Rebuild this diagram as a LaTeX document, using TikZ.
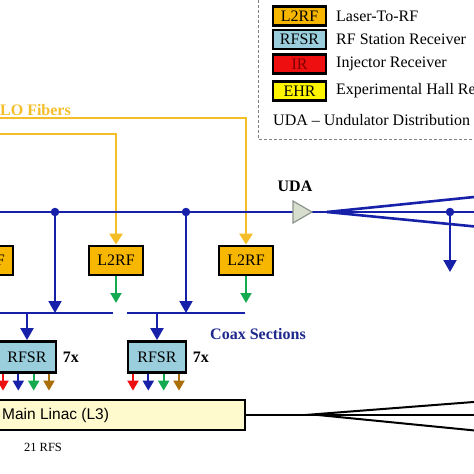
\documentclass[tikz,border=0pt]{standalone}
\usepackage{fontspec}
\setmainfont{Liberation Serif}
\newfontfamily\linacfont{Liberation Sans}
\usetikzlibrary{arrows.meta}
\definecolor{cableblue}{RGB}{22,32,168}
\definecolor{coaxtext}{RGB}{30,40,140}
\definecolor{fiberor}{RGB}{245,190,40}
\definecolor{l2rfor}{RGB}{247,183,0}
\definecolor{rfsrbl}{RGB}{155,206,220}
\definecolor{irred}{RGB}{238,16,16}
\definecolor{ehryel}{RGB}{255,245,0}
\definecolor{tapgrn}{RGB}{20,170,80}
\definecolor{tapbrn}{RGB}{170,110,10}
\definecolor{linacyel}{RGB}{255,250,205}
\definecolor{udagrey}{RGB}{215,222,205}
\definecolor{udaline}{RGB}{140,150,140}
\tikzset{
  unit/.style={draw=black,line width=2.8pt,minimum width=54pt,minimum height=29pt,inner sep=0pt},
  l2rf/.style={unit,fill=l2rfor},
  rfsr/.style={unit,fill=rfsrbl,minimum width=58pt,minimum height=31pt},
  key/.style={draw=black,line width=2.6pt,minimum width=53pt,minimum height=19pt,inner sep=0pt},
  keytext/.style={anchor=west,inner sep=0pt},
  cable/.style={draw=cableblue,line width=2.6pt},
  drop/.style={draw=cableblue,line width=2pt,-{Triangle[length=12pt,width=13pt]}},
  fiber/.style={draw=fiberor,line width=2.8pt,-{Triangle[length=11pt,width=13pt]}},
  tap/.style={draw=#1,line width=2pt,shorten >=8pt,-{Triangle[length=10pt,width=11pt]}},
  dot/.style={circle,fill=cableblue,inner sep=0pt,minimum size=8.5pt},
  beam/.style={draw=black,line width=2pt},
}
\begin{document}
\begin{tikzpicture}[x=1pt,y=-1pt,font=\fontsize{16}{19}\selectfont]
  \useasboundingbox (0,0) rectangle (474,474);
  \clip (0,0) rectangle (474,474);
  \draw[gray,line width=0.9pt,dash pattern=on 3pt off 2pt] (258,-10) rectangle (490,139);
  \foreach \y/\name/\fcol/\tcol/\txt in {16/L2RF/l2rfor/black/Laser-To-RF,
      39.5/RFSR/rfsrbl/black/RF Station Receiver,
      64/IR/irred/red!50!black/Injector Receiver,
      91/EHR/ehryel/black/Experimental Hall Receiver}{
    \node[key,fill=\fcol,text=\tcol] (key\name) at (299.5,\y) {\name};
    \node[keytext] (keytxt\name) at (336,\y) {\txt};
  }
  \node[keytext] (keyuda) at (273,122) {UDA -- Undulator Distribution Amplifier};

  \node[l2rf] (l2rfA) at (-14,260.5) {L2RF};
  \node[l2rf] (l2rfB) at (116,260.5) {L2RF};
  \node[l2rf] (l2rfC) at (246,260.5) {L2RF};
  \node[rfsr] (rfsrA) at (27,357) {RFSR};
  \node[rfsr] (rfsrB) at (157,357) {RFSR};
  \node[anchor=west,font=\fontsize{16}{19}\selectfont\bfseries] (sevenA) at ([xshift=2pt]rfsrA.east) {7x};
  \node[anchor=west,font=\fontsize{16}{19}\selectfont\bfseries] (sevenB) at ([xshift=2pt]rfsrB.east) {7x};
  \node[draw=black,line width=2.8pt,fill=linacyel,minimum width=305pt,minimum height=30pt] (linac) at (92.5,415) {};
  \node[anchor=west,inner sep=0pt,font=\linacfont\fontsize{15.5}{18}\selectfont] (linacname) at (2,415) {Main Linac (L3)};
  \node[font=\fontsize{12.5}{15}\selectfont] (rfs) at (43,447) {21 RFS};

  \node[anchor=base east,inner sep=0pt,text=fiberor,font=\fontsize{16}{19}\selectfont\bfseries] (lofib) at (71,115) {LO Fibers};
  \node[font=\fontsize{16}{19}\selectfont\bfseries] (udalabel) at (295,186) {UDA};
  \node[anchor=west,inner sep=0pt,text=coaxtext,font=\fontsize{16}{19}\selectfont\bfseries] (coaxlabel) at (210,334) {Coax Sections};

  \coordinate (fibC) at (0,118);
  \coordinate (fibB) at (0,134);
  \draw[fiber] (fibC) -| (l2rfC.north);
  \draw[fiber] (fibB) -| (l2rfB.north);

  \coordinate (mainL) at (0,212);
  \coordinate (udaIn) at (293,212);
  \coordinate (udaOut) at (312,212);
  \coordinate (fanU) at (327,212);
  \coordinate (mainR) at (480,212);
  \draw[cable] (mainL) -- (udaIn);
  \draw[cable] (udaOut) -- (mainR);
  \draw[cable] (fanU) -- (480,196.4);
  \draw[cable] (fanU) -- (480,227);
  \draw[fill=udagrey,draw=udaline,line width=1.2pt] (293,201) -- (udaOut) -- (293,223) -- cycle;

  \node[dot] (dotA) at (55,212) {};
  \node[dot] (dotB) at (186,212) {};
  \node[dot] (dotC) at (450,212) {};

  \coordinate (coaxA0) at (-10,313);
  \coordinate (coaxA1) at (113,313);
  \coordinate (coaxB0) at (127,313);
  \coordinate (coaxB1) at (245,313);
  \draw[cable] (coaxA0) -- (coaxA1);
  \draw[cable] (coaxB0) -- (coaxB1);

  \draw[drop] (dotA.center) -- (dotA |- coaxA1);
  \draw[drop] (dotB.center) -- (dotB |- coaxB1);
  \draw[drop] (dotC.center) -- ++(0,60);
  \draw[drop] (rfsrA.north |- coaxA1) -- (rfsrA.north);
  \draw[drop] (rfsrB.north |- coaxB1) -- (rfsrB.north);

  \draw[tap=tapgrn,shorten >=10pt] (l2rfB.south) -- (l2rfB.south |- coaxA1);
  \draw[tap=tapgrn,shorten >=10pt] (l2rfC.south) -- (l2rfC.south |- coaxB1);

  \foreach \r in {rfsrA,rfsrB}{
    \foreach \c/\dx in {irred/-24,cableblue/-8.7,tapgrn/6.7,tapbrn/22}{
      \draw[tap=\c] ([xshift=\dx pt]\r.south) -- ([xshift=\dx pt]\r.south |- linac.north);
    }
  }

  \coordinate (beamU) at (305,415);
  \coordinate (beamD) at (318,415);
  \draw[beam] (linac.east) -- (480,415);
  \draw[beam] (beamU) -- (480,401.5);
  \draw[beam] (beamD) -- (480,431);
\end{tikzpicture}
\end{document}
